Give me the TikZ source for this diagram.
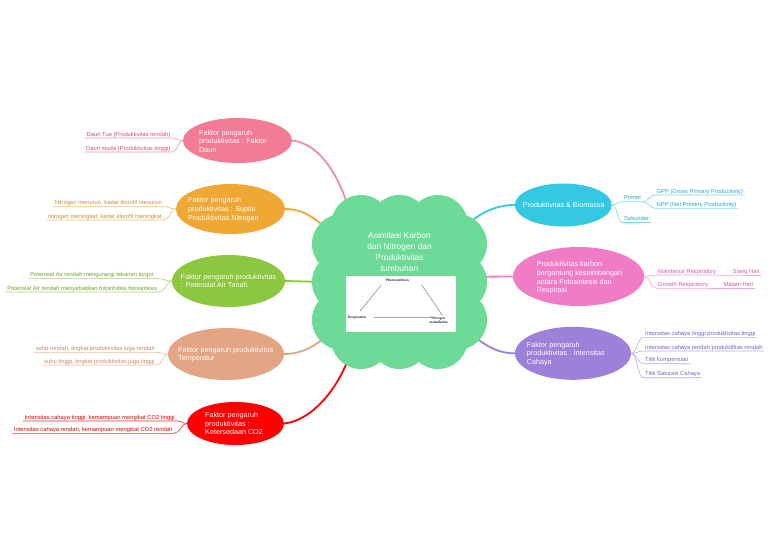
\documentclass[tikz,border=0pt]{standalone}
\usepackage{fontspec}
\setmainfont{Liberation Sans}
\newfontfamily\imgserif{Liberation Serif}
\usetikzlibrary{shapes.geometric,backgrounds,arrows.meta,calc}
\newcommand\leaffnt{\fontsize{5.8}{7}\selectfont}
\newcommand\nodefnt{\fontsize{7.2}{8.7}\selectfont}
\newcommand\centerfnt{\fontsize{8.4}{10.9}\selectfont}
\newcommand\imgfnt{\imgserif\bfseries\fontsize{3.6}{4.2}\selectfont}
% ellipse fills
\definecolor{cpinkE}{HTML}{F27B95}
\definecolor{corgE}{HTML}{F0A733}
\definecolor{cgrnE}{HTML}{8DC63F}
\definecolor{ctanE}{HTML}{E3A584}
\definecolor{credE}{HTML}{FF0000}
\definecolor{ccyanE}{HTML}{35C8E2}
\definecolor{cmagE}{HTML}{F17CC6}
\definecolor{cpurE}{HTML}{9C80D9}
\definecolor{ccloud}{HTML}{6DDB97}
% leaf texts
\definecolor{cpinkT}{HTML}{D2506E}
\definecolor{corgT}{HTML}{C8902E}
\definecolor{cgrnT}{HTML}{6EA329}
\definecolor{ctanT}{HTML}{C98766}
\definecolor{credT}{HTML}{E00000}
\definecolor{ccyanT}{HTML}{25A9C9}
\definecolor{cmagT}{HTML}{D95BA8}
\definecolor{cpurT}{HTML}{7C62C0}
% leaf lines
\definecolor{cpinkL}{HTML}{F29AAC}
\definecolor{corgL}{HTML}{F2BE6A}
\definecolor{cgrnL}{HTML}{A8D66A}
\definecolor{ctanL}{HTML}{EBBBA0}
\definecolor{credL}{HTML}{FF3030}
\definecolor{ccyanL}{HTML}{7DD8EA}
\definecolor{cmagL}{HTML}{F4A5D6}
\definecolor{cpurL}{HTML}{BCA8E6}
% main connectors
\definecolor{cpinkC}{HTML}{F48DA2}
\begin{document}
\begin{tikzpicture}[x=1pt,y=-1pt,
  ell/.style={ellipse, inner sep=0pt, draw=none},
  etext/.style={anchor=west, inner sep=0pt, align=left, text=white, font=\nodefnt},
  leafL/.style={anchor=south east, inner xsep=1.5pt, inner ysep=1.8pt, text depth=0pt, text height=4.2pt, font=\leaffnt},
  leafR/.style={leafL, anchor=south west},
  conn/.style={line width=1.8pt, line cap=round},
  twig/.style={line width=0.6pt},
  imgtxt/.style={inner sep=0.5pt, font=\imgfnt, text=black!85},
  imgarr/.style={draw=gray!70, line width=0.8pt, -{Stealth[length=2.2pt,width=1.8pt]}}
]
\useasboundingbox (0,0) rectangle (768,543);

% ---------- main ellipses ----------
\node[ell, fill=cpinkE, minimum width=109pt, minimum height=45pt] (daun) at (237.5,140.5) {};
\node[etext] (daunT) at (199,141.2) {Faktor pengaruh\\produktivitas : Faktor\\Daun};
\node[ell, fill=corgE, minimum width=109pt, minimum height=50pt] (nitro) at (230.5,209) {};
\node[etext] (nitroT) at (188,209.5) {Faktor pengaruh\\produktivitas : Suplai\\Produktivitas Nitrogen};
\node[ell, fill=cgrnE, minimum width=113pt, minimum height=52pt] (air) at (228.5,281) {};
\node[etext] (airT) at (180.7,281) {Faktor pengaruh produktivitas\\: Potensial Air Tanah};
\node[ell, fill=ctanE, minimum width=116pt, minimum height=52pt] (temp) at (226,354) {};
\node[etext] (tempT) at (178,354.7) {Faktor pengaruh produktivitas\\Temperatur};
\node[ell, fill=credE, minimum width=97pt, minimum height=43pt] (co2) at (235.5,423.5) {};
\node[etext] (co2T) at (205,423.7) {Faktor pengaruh\\produktivitas :\\Ketersedaan CO2};

\node[ell, fill=ccyanE, minimum width=97pt, minimum height=43pt] (bio) at (563.3,205) {};
\node[etext] (bioT) at (522.7,205) {Produktivitas \& Biomassa};
\node[ell, fill=cmagE, minimum width=131pt, minimum height=59pt] (karb) at (578.5,276.5) {};
\node[etext] (karbT) at (536.7,278) {Produktivitas karbon\\bergantung keseimbangan\\antara Fotosintesis dan\\Respirasi};
\node[ell, fill=cpurE, minimum width=116pt, minimum height=53pt] (cah) at (573,353.3) {};
\node[etext] (cahT) at (526.7,354) {Faktor pengaruh\\produktivitas : Intensitas\\Cahaya};

% ---------- central cloud ----------
\fill[ccloud] (342,225) rectangle (457,339);
\foreach \p in {(361,225),(399.5,225),(438,225),(361,339),(399.5,339),(438,339),
                (342,244),(342,282),(342,320),(457,244),(457,282),(457,320)}
  \fill[ccloud] \p circle[radius=30];
\node[circle, minimum size=150pt, inner sep=0pt] (cloud) at (399.5,282) {};
\node[align=center, text=white, font=\centerfnt, inner sep=0pt] (title) at (399.5,252.3)
  {Asimilasi Karbon\\dan Nitrogen dan\\Produktivitas\\tumbuhan};
\node[fill=white, minimum width=110pt, minimum height=56pt, inner sep=0pt] (img) at (401,304) {};
\node[imgtxt] (ph) at (397.5,280.5) {Photosynthesis};
\node[imgtxt] (re) at (357,317.5) {Respiration};
\node[imgtxt, align=center] (ni) at (438.5,320.5) {Nitrogen\\assimilation};
\draw[imgarr] ($(ph.south west)+(-4,2)$) -- ($(re.north)+(3,-4)$);
\draw[imgarr] ($(ph.south east)+(12,2)$) -- ($(ni.north)+(4,-1)$);
\draw[imgarr] ($(re.east)+(7,-0.5)$) -- ($(ni.west |- re.east)+(4,-0.5)$);

% ---------- leaves, left ----------
\node[leafL, text=cpinkT] (d1) at (172,138) {Daun Tua (Produktivitas rendah)};
\node[leafL, text=cpinkT] (d2) at (172,152) {Daun muda (Produktivitas tinggi)};
\node[leafL, text=corgT] (n1) at (163.5,206.7) {Nitrogen menurun, kadar klorofil menurun};
\node[leafL, text=corgT] (n2) at (163.5,220) {nitrogen meningkat, kadar klorofil meningkat};
\node[leafL, text=cgrnT] (a1) at (155.5,278.3) {Potensial Air rendah mengurangi tekanan turgor};
\node[leafL, text=cgrnT] (a2) at (159,292) {Potensial Air rendah menyebabkan fotoinhibisi fotosintesis};
\node[leafL, text=ctanT] (t1) at (156.5,352.3) {suhu rendah, tingkat produktivitas juga rendah};
\node[leafL, text=ctanT] (t2) at (156.5,365) {suhu tinggi, tingkat produktivitas juga tinggi};
\node[leafL, text=credT] (c1) at (176.5,421) {Intensitas cahaya tinggi, kemampuan mengikat CO2 tinggi};
\node[leafL, text=credT] (c2) at (174,433.3) {Intensitas cahaya rendah, kemampuan mengikat CO2 rendah};

\foreach \l/\p/\c in {d1/daun/cpinkL,d2/daun/cpinkL,n1/nitro/corgL,n2/nitro/corgL,
                      a1/air/cgrnL,a2/air/cgrnL,t1/temp/ctanL,t2/temp/ctanL,
                      c1/co2/credL,c2/co2/credL}
  \draw[twig, \c] (\l.south west) -- (\l.south east) .. controls +(6,0) and +(-5,0) .. (\p.west);

% ---------- leaves, right ----------
\node[leafR, text=ccyanT] (pri) at (622.5,201.7) {Primer};
\node[leafR, text=ccyanT] (sek) at (622.5,222.5) {Sekunder};
\node[leafR, text=ccyanT] (gpp) at (655,195) {GPP (Gross Primary Productivity)};
\node[leafR, text=ccyanT] (npp) at (655,208.3) {NPP (Net Primery Productivity)};
\node[leafR, text=cmagT] (mr) at (656.5,275) {Maintance Respiratory};
\node[leafR, text=cmagT] (sh) at (731,275) {Siang Hari};
\node[leafR, text=cmagT] (gr) at (656.5,288.3) {Growth Respiratory};
\node[leafR, text=cmagT] (mh) at (721.8,288.3) {Malam Hari};
\node[leafR, text=cpurT] (i1) at (643.5,337.3) {Intensitas cahaya tinggi produktivitas tinggi};
\node[leafR, text=cpurT] (i2) at (643.5,351) {Intensitas cahaya rendah produktifitas rendah};
\node[leafR, text=cpurT] (i3) at (643.5,363.7) {Titik kompensasi};
\node[leafR, text=cpurT] (i4) at (643.5,377.7) {Titik Saturasi Cahaya};

\foreach \l/\p/\c in {pri/bio/ccyanL,sek/bio/ccyanL,mr/karb/cmagL,gr/karb/cmagL,
                      i1/cah/cpurL,i2/cah/cpurL,i3/cah/cpurL,i4/cah/cpurL}
  \draw[twig, \c] (\p.east) .. controls +(6,0) and +(-6,0) .. (\l.south west) -- (\l.south east);
\foreach \l in {gpp,npp}
  \draw[twig, ccyanL] (pri.south east) .. controls +(5,0) and +(-5,0) .. (\l.south west) -- (\l.south east);
\draw[twig, cmagL] (mr.south east) -- (sh.south west) -- (sh.south east);
\draw[twig, cmagL] (gr.south east) -- (mh.south west) -- (mh.south east);

% ---------- main connectors (behind) ----------
\begin{scope}[on background layer]
\fill[white] (0,0) rectangle (768,543);
\draw[conn, cpinkC] (daun.east) .. controls +(30,3) and +(-8,-40) .. (cloud.129);
\draw[conn, corgE] (nitro.east) .. controls +(25,0) and +(-15,-12) .. (cloud.145);
\draw[conn, cgrnE] (air.east) -- (cloud.180);
\draw[conn, ctanE] (temp.east) .. controls +(25,0) and +(-15,12) .. (cloud.216);
\draw[conn, credE] (co2.east) .. controls +(30,-3) and +(-8,40) .. (cloud.232);
\draw[conn, ccyanE] (bio.west) .. controls +(-25,0) and +(15,-15) .. (cloud.40);
\draw[conn, cmagE] (karb.west) -- (cloud.4);
\draw[conn, cpurE] (cah.west) .. controls +(-25,0) and +(15,12) .. (cloud.-35);
\end{scope}
\end{tikzpicture}
\end{document}
